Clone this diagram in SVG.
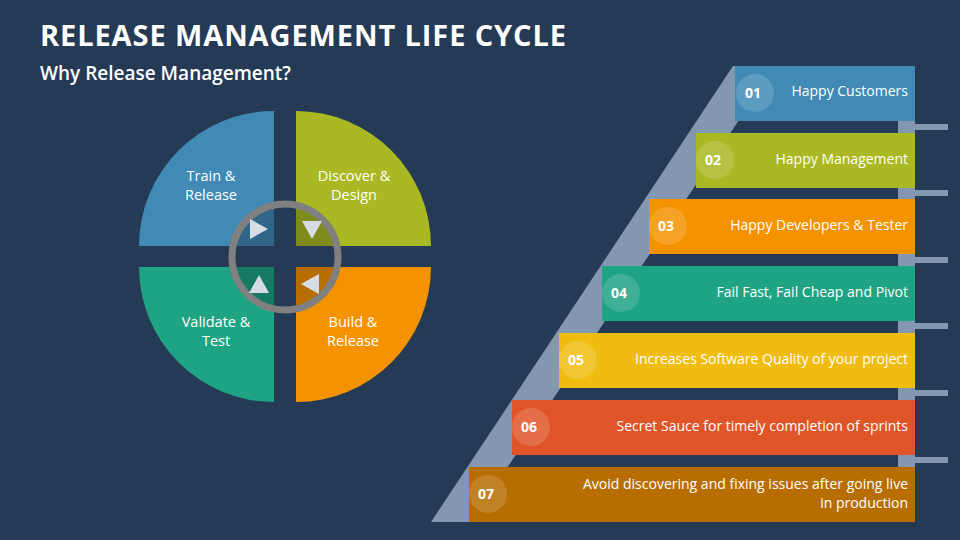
<svg xmlns="http://www.w3.org/2000/svg" width="960" height="540" viewBox="0 0 960 540">
<style>
text{font-family:"Open Sans","Liberation Sans",sans-serif;fill:#fff}
.q{font-size:14.5px;text-anchor:middle}
.b{font-size:14px;text-anchor:end}
.n{font-size:14px;font-weight:bold;text-anchor:middle}
.c{fill:#fff;fill-opacity:.15}
.tab{fill:#8497b0}
.tri{fill:#d6dce4}
</style>
<defs><clipPath id="ring"><circle cx="285" cy="257" r="53"/></clipPath></defs>
<rect width="960" height="540" fill="#253a54"/>
<text x="40" y="46" font-size="29" font-weight="bold" textLength="526">RELEASE MANAGEMENT LIFE CYCLE</text>
<text x="40" y="80" font-size="19" font-weight="600">Why Release Management?</text>
<g id="cycle">
<path d="M274 246 L139 246 A135 135 0 0 1 274 111 Z" fill="#418ab6"/>
<path d="M296 246 L296 111 A135 135 0 0 1 431 246 Z" fill="#a9b823"/>
<path d="M296 267 L431 267 A135 135 0 0 1 296 402 Z" fill="#f59200"/>
<path d="M274 267 L274 402 A135 135 0 0 1 139 267 Z" fill="#1ea383"/>
<g clip-path="url(#ring)" fill="#000" fill-opacity=".25">
<rect x="200" y="180" width="74" height="66"/><rect x="296" y="180" width="74" height="66"/>
<rect x="200" y="267" width="74" height="70"/><rect x="296" y="267" width="74" height="70"/>
</g>
<circle cx="285" cy="257" r="53" fill="none" stroke="#808080" stroke-width="7"/>
<polygon class="tri" points="250,219 268,229 250,239"/>
<polygon class="tri" points="302,221 322,221 312,239"/>
<polygon class="tri" points="319,274 319,294 301,284"/>
<polygon class="tri" points="249,293 269,293 259,275"/>
<text class="q" x="211" y="181">Train &amp;</text><text class="q" x="211" y="200">Release</text>
<text class="q" x="354" y="181">Discover &amp;</text><text class="q" x="354" y="200">Design</text>
<text class="q" x="216" y="327">Validate &amp;</text><text class="q" x="216" y="346">Test</text>
<text class="q" x="353" y="327">Build &amp;</text><text class="q" x="353" y="346">Release</text>
</g>
<g id="stair">
<polygon points="733,66 775,66 471,522 431,522" fill="#8497b0"/>
<rect class="tab" x="898" y="121" width="17" height="346"/>
<rect class="tab" x="915" y="124" width="33" height="6"/>
<rect class="tab" x="915" y="190" width="33" height="6"/>
<rect class="tab" x="915" y="257" width="33" height="6"/>
<rect class="tab" x="915" y="323" width="33" height="6"/>
<rect class="tab" x="915" y="390" width="33" height="6"/>
<rect class="tab" x="915" y="457" width="33" height="6"/>
</g>
<g id="b1"><rect x="735" y="66" width="180" height="55" fill="#418ab6"/><circle class="c" cx="755" cy="93" r="19"/><text class="n" x="753" y="98">01</text><text class="b" x="908" y="96">Happy Customers</text></g>
<g id="b2"><rect x="696" y="133" width="219" height="55" fill="#a9b823"/><circle class="c" cx="715" cy="160" r="19"/><text class="n" x="713" y="165">02</text><text class="b" x="908" y="164">Happy Management</text></g>
<g id="b3"><rect x="649" y="199" width="266" height="55" fill="#f59200"/><circle class="c" cx="668" cy="226" r="19"/><text class="n" x="666" y="231">03</text><text class="b" x="908" y="230">Happy Developers &amp; Tester</text></g>
<g id="b4"><rect x="602" y="266" width="313" height="55" fill="#1ea383"/><circle class="c" cx="621" cy="293" r="19"/><text class="n" x="619" y="298">04</text><text class="b" x="908" y="297">Fail Fast, Fail Cheap and Pivot</text></g>
<g id="b5"><rect x="559" y="333" width="356" height="55" fill="#f0bc0f"/><circle class="c" cx="578" cy="360" r="19"/><text class="n" x="576" y="365">05</text><text class="b" x="908" y="364">Increases Software Quality of your project</text></g>
<g id="b6"><rect x="512" y="400" width="403" height="55" fill="#e05527"/><circle class="c" cx="531" cy="427" r="19"/><text class="n" x="529" y="432">06</text><text class="b" x="908" y="431">Secret Sauce for timely completion of sprints</text></g>
<g id="b7"><rect x="469" y="467" width="446" height="55" fill="#b76d00"/><circle class="c" cx="488" cy="494" r="19"/><text class="n" x="486" y="499">07</text><text class="b" x="908" y="489">Avoid discovering and fixing issues after going live</text><text class="b" x="908" y="508">in production</text></g>
</svg>
